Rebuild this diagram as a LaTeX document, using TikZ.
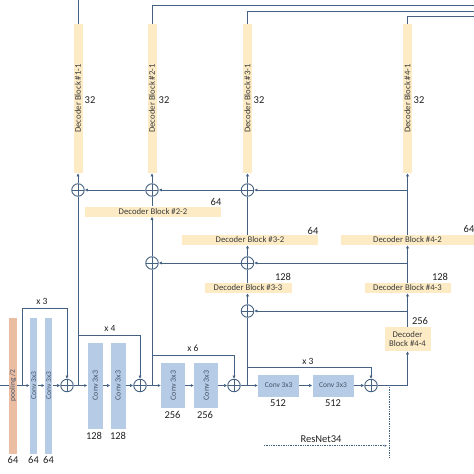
\documentclass[tikz,border=0pt]{standalone}
\usepackage{fontspec}
\setmainfont{Carlito}
\usetikzlibrary{arrows.meta}

\begin{document}
\begin{tikzpicture}[x=1pt,y=-1pt,
  ln/.style={draw=lnc,line width=1pt},
  arr/.style={ln,-{Latex[length=3.2pt,width=3.2pt]}},
  dec/.style={fill=decf,text=dtxt,inner sep=0pt,font=\fontsize{8.7}{9.5}\selectfont},
  conv/.style={fill=convf,text=ctxt,inner sep=0pt,font=\fontsize{7.5}{8}\selectfont},
  bigconv/.style={conv,font=\fontsize{8}{9}\selectfont},
  num/.style={text=ntxt,inner sep=0pt,font=\fontsize{10.5}{12}\selectfont},
  rep/.style={text=ntxt,inner sep=0pt,font=\fontsize{9.5}{11}\selectfont},
  sum/.style={circle,draw=lnc,line width=0.9pt,minimum size=12.5pt,inner sep=0pt,
    path picture={\draw[lnc,line width=0.9pt] (path picture bounding box.north) -- (path picture bounding box.south)
      (path picture bounding box.west) -- (path picture bounding box.east);}},
  dots/.style={draw=lnc,line width=0.7pt,densely dotted}]
\definecolor{lnc}{rgb}{0.27,0.38,0.51}
\definecolor{decf}{rgb}{0.988,0.922,0.773}
\definecolor{convf}{rgb}{0.714,0.796,0.898}
\definecolor{poolf}{rgb}{0.922,0.741,0.639}
\definecolor{dtxt}{rgb}{0.23,0.23,0.23}
\definecolor{ctxt}{rgb}{0.27,0.33,0.42}
\definecolor{ntxt}{rgb}{0.13,0.13,0.13}
\useasboundingbox (0,0) rectangle (474,474);

% encoder
\node[fill=poolf,text=ctxt,inner sep=0pt,font=\fontsize{7.5}{8}\selectfont,minimum width=7.5pt,minimum height=136pt] (pool) at (13,385.5) {\rotatebox{90}{pooling /2}};
\node[conv,minimum width=7.5pt,minimum height=136pt] (cv1a) at (33.7,385.5) {\rotatebox{90}{Conv 3x3}};
\node[conv,minimum width=7.5pt,minimum height=136pt] (cv1b) at (48.7,385.5) {\rotatebox{90}{Conv 3x3}};
\node[bigconv,minimum width=15pt,minimum height=86pt] (cv2a) at (95.2,385.5) {\rotatebox{90}{Conv 3x3}};
\node[bigconv,minimum width=15pt,minimum height=86pt] (cv2b) at (118,385.5) {\rotatebox{90}{Conv 3x3}};
\node[bigconv,minimum width=24pt,minimum height=45pt] (cv3a) at (173.2,385.5) {\rotatebox{90}{Conv 3x3}};
\node[bigconv,minimum width=24pt,minimum height=45pt] (cv3b) at (206.2,385.5) {\rotatebox{90}{Conv 3x3}};
\node[conv,minimum width=41pt,minimum height=22pt] (cv4a) at (278.7,385.5) {Conv 3x3};
\node[conv,minimum width=41pt,minimum height=22pt] (cv4b) at (333,385.5) {Conv 3x3};
\node[sum] (e1) at (67,385.5) {};
\node[sum] (e2) at (140,385.5) {};
\node[sum] (e3) at (234,385.5) {};
\node[sum] (e4) at (371,385.5) {};

\node[num] (npool) at (13,460) {64};
\node[num] (n1a) at (33.5,460) {64};
\node[num] (n1b) at (48.5,460) {64};
\node[num] (n2a) at (94,436) {128};
\node[num] (n2b) at (118,436) {128};
\node[num] (n3a) at (172.5,415) {256};
\node[num] (n3b) at (205,415) {256};
\node[num] (n4a) at (278,403.5) {512};
\node[num] (n4b) at (333,403.5) {512};
\node[rep] (r1) at (42,301.5) {x 3};
\node[rep] (r2) at (110,328) {x 4};
\node[rep] (r3) at (193,348.5) {x 6};
\node[rep] (r4) at (308,361.5) {x 3};

% decoder
\node[dec,minimum width=9pt,minimum height=149pt] (d11) at (78,98.5) {\rotatebox{90}{Decoder Block \#1-1}};
\node[dec,minimum width=9pt,minimum height=149pt] (d21) at (152,98.5) {\rotatebox{90}{Decoder Block \#2-1}};
\node[dec,minimum width=9pt,minimum height=149pt] (d31) at (247.5,98.5) {\rotatebox{90}{Decoder Block \#3-1}};
\node[dec,minimum width=9pt,minimum height=149pt] (d41) at (407.5,98.5) {\rotatebox{90}{Decoder Block \#4-1}};
\node[dec,minimum width=136pt,minimum height=10pt] (d22) at (153,211.5) {Decoder Block \#2-2};
\node[dec,minimum width=136pt,minimum height=10pt] (d32) at (250,240) {Decoder Block \#3-2};
\node[dec,minimum width=134pt,minimum height=10pt] (d42) at (407.5,240) {Decoder Block \#4-2};
\node[dec,minimum width=87pt,minimum height=10pt] (d33) at (248,288) {Decoder Block \#3-3};
\node[dec,minimum width=86pt,minimum height=10pt] (d43) at (407.5,288) {Decoder Block \#4-3};
\node[dec,minimum width=46pt,minimum height=24pt,align=center] (d44) at (407.5,339) {Decoder\\Block \#4-4};
\node[sum] (s11) at (78,190) {};
\node[sum] (s21) at (152,190) {};
\node[sum] (s31) at (247.5,190) {};
\node[sum] (s22) at (152,263) {};
\node[sum] (s32) at (247.5,263) {};
\node[sum] (s33) at (247.5,311) {};

\node[num] (m11) at (90,100) {32};
\node[num] (m21) at (164,100) {32};
\node[num] (m31) at (259,100) {32};
\node[num] (m41) at (419,100) {32};
\node[num] (m22) at (216,202) {64};
\node[num] (m32) at (313,231) {64};
\node[num] (m42) at (469,229) {64};
\node[num] (m33) at (283,277) {128};
\node[num] (m43) at (440,277) {128};
\node[num] (m44) at (420,321) {256};

\coordinate (in) at (0,385.5);
\coordinate (k1) at (22,385.5);
\coordinate (k2) at (78,385.5);
\coordinate (k3) at (152,385.5);
\coordinate (k4) at (247.5,385.5);
\coordinate (b1) at (407.5,190);
\coordinate (b2) at (407.5,263);
\coordinate (b3) at (407.5,311);
\coordinate (t1) at (78,0);
\coordinate (t2) at (474,5.7);
\coordinate (t3) at (474,11.7);
\coordinate (t4) at (474,16);

% main path
\draw[ln] (in) -- (pool);
\draw[arr] (pool) -- (cv1a);
\draw[arr] (cv1a) -- (cv1b);
\draw[arr] (cv1b) -- (e1);
\draw[arr] (e1) -- (cv2a);
\draw[arr] (cv2a) -- (cv2b);
\draw[arr] (cv2b) -- (e2);
\draw[arr] (e2) -- (cv3a);
\draw[arr] (cv3a) -- (cv3b);
\draw[arr] (cv3b) -- (e3);
\draw[arr] (e3) -- (cv4a);
\draw[arr] (cv4a) -- (cv4b);
\draw[arr] (cv4b) -- (e4);
\draw[arr] (k1) -- ++(0,-77.5) -| (e1);
\draw[arr] (k2) -- ++(0,-50.5) -| (e2);
\draw[arr] (k3) -- ++(0,-30) -| (e3);
\draw[arr] (k4) -- ++(0,-18.5) -| (e4);

% column 1
\draw[ln] (k2) -- (s11);
\draw[arr] (s11) -- (d11);
\draw[ln] (d11) -- (t1);
% column 2
\draw[ln] (k3) -- (s22);
\draw[arr] (s22) -- (s22 |- d22.south);
\draw[ln] (s22 |- d22.north) -- (s21);
\draw[arr] (s21) -- (d21);
\draw[ln] (d21) |- (t2);
% column 3
\draw[ln] (k4) -- (s33);
\draw[arr] (s33) -- (s33 |- d33.south);
\draw[ln] (s33 |- d33.north) -- (s32);
\draw[arr] (s32) -- (s32 |- d32.south);
\draw[ln] (s32 |- d32.north) -- (s31);
\draw[arr] (s31) -- (d31);
\draw[ln] (d31) |- (t3);
% column 4
\draw[arr] (e4) -| (d44);
\draw[arr] (d44) -- (d43);
\draw[arr] (d43) -- (d42);
\draw[arr] (d42) -- (d41);
\draw[ln] (d41) |- (t4);
\draw[arr] (b1) -- (s31);
\draw[arr] (b2) -- (s32);
\draw[arr] (b3) -- (s33);
\draw[arr] (s31) -- (s21);
\draw[arr] (s21) -- (s11);
\draw[arr] (s32) -- (s22);

% resnet34 part
\coordinate (q1) at (389,387);
\coordinate (q2) at (389,458);
\coordinate (q3) at (264,445.7);
\coordinate (q4) at (387,445.7);
\draw[dots] (q1) -- (q2);
\draw[dots,-{Latex[length=2.5pt,width=2.5pt]}] (q3) -- (q4);
\node[num] (res) at (321,439) {ResNet34};
\end{tikzpicture}
\end{document}
